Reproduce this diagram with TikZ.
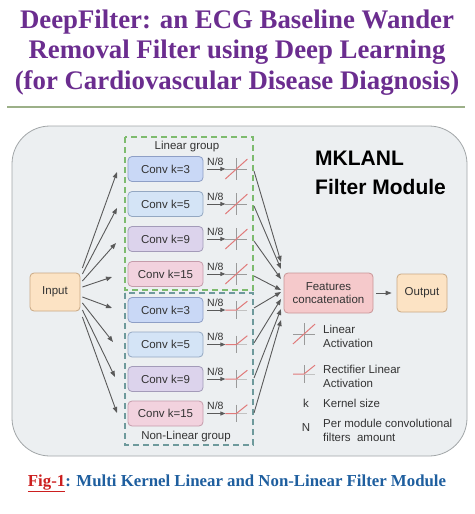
\documentclass[tikz,border=0pt]{standalone}
\usepackage{fontspec}
\setmainfont{Liberation Serif}
\setsansfont{Liberation Sans}
\usetikzlibrary{arrows.meta,calc}
\definecolor{ttl}{HTML}{6B2D8F}
\definecolor{rule}{HTML}{9CB088}
\definecolor{panel}{HTML}{ECEFF1}
\definecolor{panelb}{HTML}{A2A6A8}
\definecolor{peach}{HTML}{FCE3C4}
\definecolor{peachb}{HTML}{C9A883}
\definecolor{pinkf}{HTML}{F5C9CB}
\definecolor{pinkb}{HTML}{C99597}
\definecolor{bluef}{HTML}{C9D8F6}
\definecolor{blueb}{HTML}{8E9FC6}
\definecolor{lbluef}{HTML}{D4E4F6}
\definecolor{lblueb}{HTML}{94A8C2}
\definecolor{lavf}{HTML}{DCD3EC}
\definecolor{lavb}{HTML}{A39BB9}
\definecolor{rosef}{HTML}{F2D2DE}
\definecolor{roseb}{HTML}{C59CAB}
\definecolor{grpg}{HTML}{7DBB6E}
\definecolor{grpt}{HTML}{6E9A9C}
\definecolor{arrc}{HTML}{5A5A5A}
\definecolor{actr}{HTML}{E07A7A}
\definecolor{actg}{HTML}{9A9A9A}
\definecolor{txt}{HTML}{333333}
\definecolor{capred}{HTML}{CC1F1F}
\definecolor{capblue}{HTML}{1F5F9F}
\tikzset{
  x=1pt,y=-1pt,
  boxbase/.style={draw, rounded corners=4pt, line width=0.8pt, text=txt,
    font=\sffamily\fontsize{11.5}{13}\selectfont, align=center, inner sep=0pt},
  convbox/.style={boxbase, minimum width=75pt, minimum height=25pt},
  c3/.style={convbox, fill=bluef, draw=blueb},
  c5/.style={convbox, fill=lbluef, draw=lblueb},
  c9/.style={convbox, fill=lavf, draw=lavb},
  c15/.style={convbox, fill=rosef, draw=roseb},
  iobox/.style={boxbase, fill=peach, draw=peachb, minimum width=50pt, minimum height=38pt},
  arr/.style={draw=arrc, line width=0.9pt, -{Triangle[length=6pt,width=4.5pt]}},
  grplin/.style={draw=grpg, line width=1.2pt, dash pattern=on 6pt off 4pt},
  grpnl/.style={draw=grpt, line width=1.2pt, dash pattern=on 6pt off 4pt},
  lbl/.style={text=txt, font=\sffamily\fontsize{11.5}{14}\selectfont, inner sep=0pt},
  nlbl/.style={text=txt, font=\sffamily\fontsize{10.5}{12}\selectfont, inner sep=0pt, anchor=base},
  titlef/.style={text=ttl, font=\bfseries\fontsize{26.8}{30}\selectfont, inner sep=0pt, anchor=base},
  pics/linact/.style={code={
    \draw[actg, line width=0.9pt] (0,-#1) -- (0,#1);
    \draw[actg, line width=0.9pt] (-#1,0) -- (#1,0);
    \draw[actr, line width=1pt] (-#1,#1*0.9) -- (#1,-#1*0.9);
  }},
  pics/reluact/.style={code={
    \draw[actg, line width=0.9pt] (0,-#1*0.8) -- (0,#1*0.8);
    \draw[actg!60, line width=0.9pt] (0,0) -- (#1,0);
    \draw[actr, line width=1pt] (-#1,0) -- (0,0) -- (#1,-#1*0.8);
  }},
}
\begin{document}
\begin{tikzpicture}
\useasboundingbox (0,0) rectangle (474,514);
\fill[white] (0,0) rectangle (474,514);
% title
\node[titlef] (t1) at (237,28) {DeepFilter: an ECG Baseline Wander};
\node[titlef] (t2) at (237,58.5) {Removal Filter using Deep Learning};
\node[titlef] (t3) at (237,89) {(for Cardiovascular Disease Diagnosis)};
\draw[rule, line width=1.5pt] (7,107) -- (465,107);
% panel
\draw[panelb, fill=panel, line width=0.8pt, rounded corners=38pt] (12,126) rectangle (467,456);
% groups
\draw[grplin] (125,137) rectangle (253,290);
\draw[grpnl] (125,293) rectangle (253,445);
\node[lbl] (lg) at (187,147) {Linear group};
\node[lbl] (nlg) at (186,437) {Non-Linear group};
% boxes
\node[iobox] (in) at (55,292) {Input};
\node[c3] (l1) at (165.5,169) {Conv k=3};
\node[c5] (l2) at (165.5,204) {Conv k=5};
\node[c9] (l3) at (165.5,239) {Conv k=9};
\node[c15] (l4) at (165.5,274) {Conv k=15};
\node[c3] (n1) at (165.5,310) {Conv k=3};
\node[c5] (n2) at (165.5,344.5) {Conv k=5};
\node[c9] (n3) at (165.5,379) {Conv k=9};
\node[c15] (n4) at (165.5,413.5) {Conv k=15};
\node[boxbase, fill=pinkf, draw=pinkb, minimum width=89pt, minimum height=40pt] (fc) at (328.5,293) {Features\\concatenation};
\node[iobox] (out) at (422,293) {Output};
% title of module
\node[text=black, font=\sffamily\bfseries\fontsize{21}{28}\selectfont, inner sep=0pt, anchor=base west] (m1) at (315,165) {MKLANL};
\node[text=black, font=\sffamily\bfseries\fontsize{21}{28}\selectfont, inner sep=0pt, anchor=base west] (m2) at (315,194) {Filter Module};
% input fan
\foreach \n/\sy/\ex/\ey in {l1/-24/117/172, l2/-18/117/208, l3/-11/116/243, l4/-5/112/277, n1/5/112/308, n2/11/113/342, n3/18/115/377, n4/25/117/413}{
  \coordinate (e\n) at (\ex,\ey);
  \draw[arr] ($(in.east)+(2,\sy)$) -- (e\n);
}
% activations and N/8
\foreach \n in {l1,l2,l3,l4}{
  \draw[arr, line width=0.8pt, -{Triangle[length=5pt,width=4pt]}] ($(\n.east)+(4,0)$) -- ++(18,0);
  \node[nlbl] at ($(\n.east)+(12,-4)$) {N/8};
  \pic at ($(\n.east)+(33,0)$) {linact=11};
}
\foreach \n in {n1,n2,n3,n4}{
  \draw[arr, line width=0.8pt, -{Triangle[length=5pt,width=4pt]}] ($(\n.east)+(4,0)$) -- ++(18,0);
  \node[nlbl] at ($(\n.east)+(12,-4)$) {N/8};
  \pic at ($(\n.east)+(33,0)$) {reluact=11};
}
% into concatenation
\foreach \n/\sy/\ey in {l1/171/262, l2/206/269, l3/241/279, l4/276/290, n1/308/292, n2/343/299, n3/378/309, n4/413/320}{
  \coordinate (s\n) at (254,\sy);
  \draw[arr] (s\n) -- (281,\ey);
}
\draw[arr] (fc.east) ++(3,0) coordinate (fo) -- ($(out.west)+(-5,0)$);
% legend
\pic at (304,334) {linact=11};
\node[lbl, anchor=west, align=left] (lg1) at (323,336) {Linear\\Activation};
\pic at (304,374) {reluact=11};
\node[lbl, anchor=west, align=left] (lg2) at (323,376) {Rectifier Linear\\Activation};
\node[lbl] (lk) at (306,403) {k};
\node[lbl, anchor=west] (lk2) at (323,403) {Kernel size};
\node[lbl] (ln) at (306,428) {N};
\node[lbl, anchor=west, align=left] (ln2) at (323,430) {Per module convolutional\\filters\ \ amount};
% caption
\node[inner sep=0pt, anchor=base, font=\bfseries\fontsize{16.8}{20}\selectfont] (cap) at (237,486)
  {\textcolor{capred}{\underline{Fig-1}}\textcolor{capblue}{: Multi Kernel Linear and Non-Linear Filter Module}};
\end{tikzpicture}
\end{document}
